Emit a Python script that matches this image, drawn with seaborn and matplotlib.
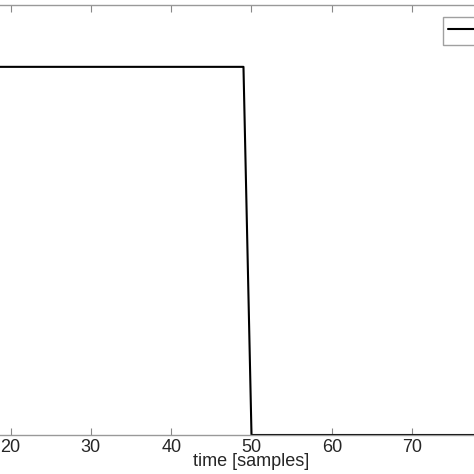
import matplotlib
matplotlib.use("Agg")
import matplotlib.pyplot as plt
import numpy as np
import pandas as pd
import seaborn as sns

# step signal: 1 up to sample 49, 0 from sample 50
samples = list(range(0, 101))
values = [1.0 if s <= 49 else 0.0 for s in samples]
xticks = [0, 10, 20, 30, 40, 50, 60, 70, 80, 90, 100]

sns.set_style("white")
plt.rcParams["font.family"] = ["Liberation Sans", "DejaVu Sans"]

fig = plt.figure(figsize=(4.74, 4.74), dpi=100)
ax = fig.add_axes([-150 / 474, 39 / 474, 803 / 474, 430 / 474])

df = pd.DataFrame({"time": samples, "value": values})
sns.lineplot(data=df, x="time", y="value", color="black", lw=1.5, ax=ax, label="step")

ax.set_xlim(0, 100)
ax.set_ylim(0, 1.168)
ax.set_xticks(xticks)
ax.set_yticks([0, 0.2, 0.4, 0.6, 0.8, 1.0])
ax.tick_params(direction="in", length=5, color="#888888", labelsize=13,
               top=True, right=True, left=True, bottom=True, pad=3)
for sp in ax.spines.values():
    sp.set_color("#999999")
    sp.set_linewidth(1.0)
ax.set_xlabel("time [samples]", fontsize=13, labelpad=-2)
ax.set_ylabel("")

leg = ax.legend(loc="upper left", bbox_to_anchor=(434 / 474, 466 / 474),
                bbox_transform=fig.transFigure, frameon=True, fancybox=False,
                fontsize=13, handlelength=1.4, handletextpad=0.2, borderpad=0.3)
leg.get_frame().set_edgecolor("#888888")

fig.savefig("out.png", dpi=100)
